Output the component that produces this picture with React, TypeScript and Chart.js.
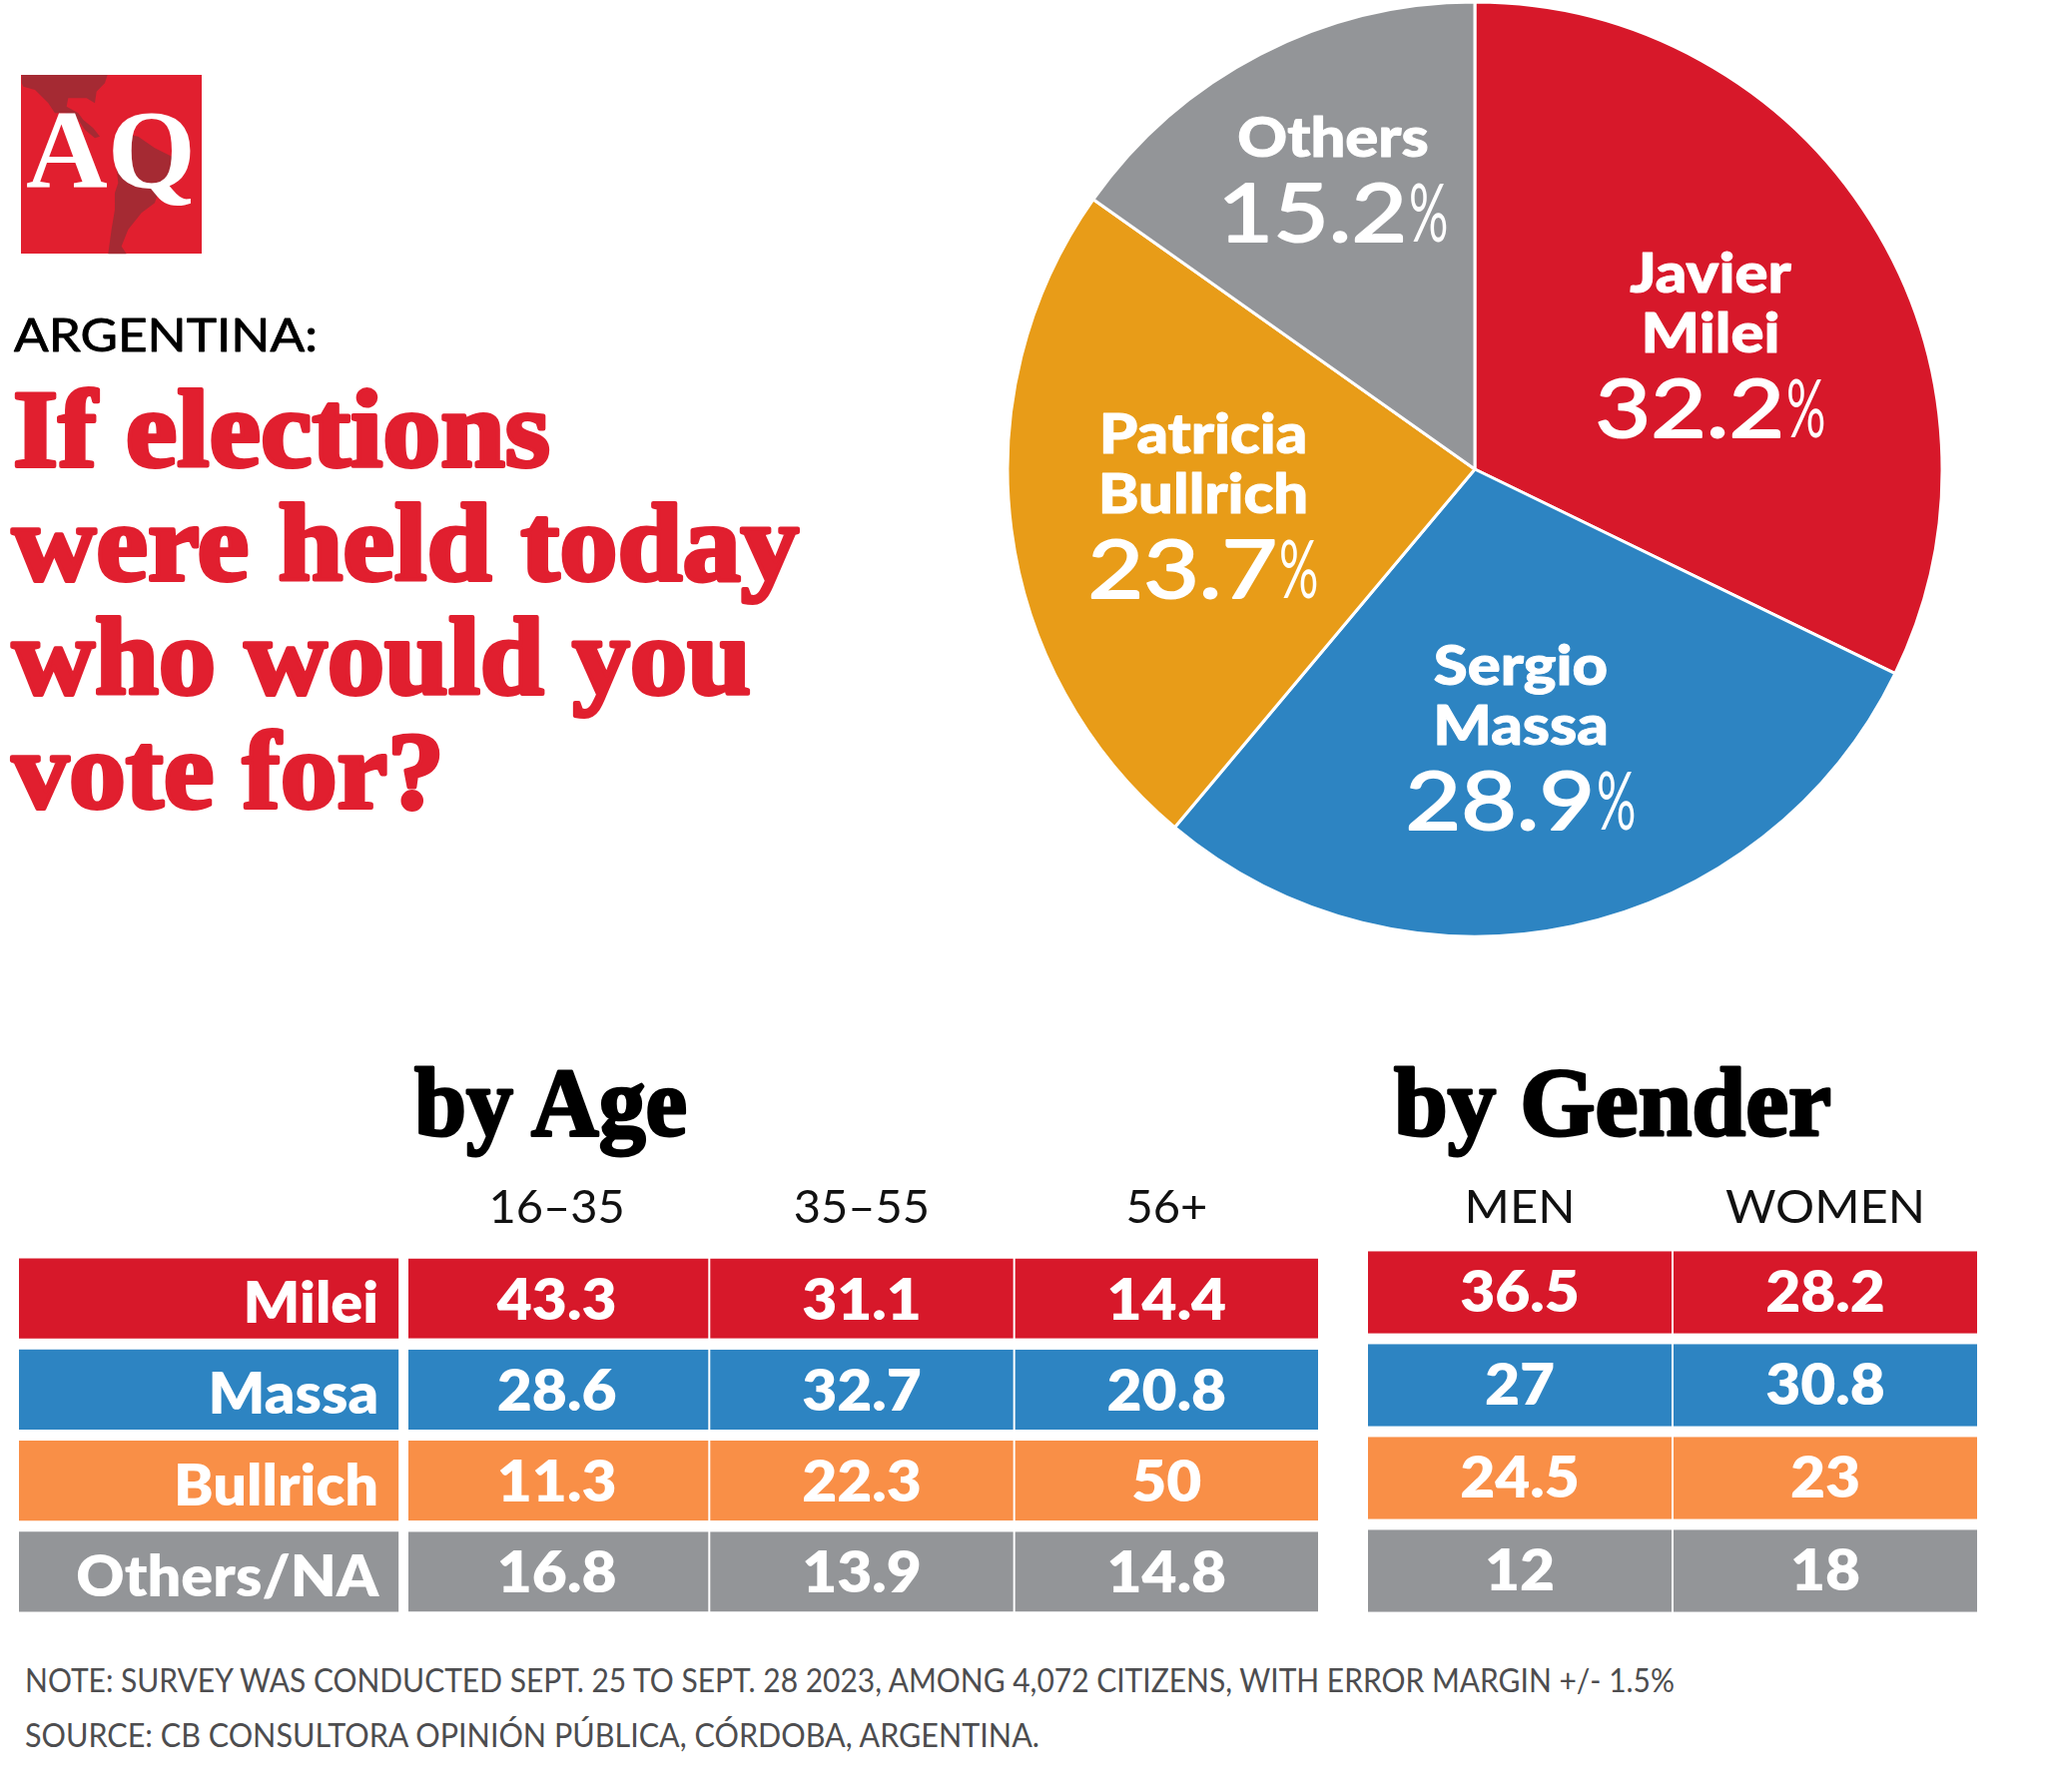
import { useEffect, useRef } from "react";
import { Chart, registerables } from "chart.js";
Chart.register(...registerables);

const pieNames = [["Javier", "Milei"], ["Sergio", "Massa"], ["Patricia", "Bullrich"], ["Others"]];
const pieValues = [32.2, 28.9, 23.7, 15.2];
const pieColors = ["#D7182A", "#2D84C2", "#E89C18", "#939598"];

const rowLabels = ["Milei", "Massa", "Bullrich", "Others/NA"];
const rowColors = ["#D7182A", "#2D84C2", "#F98F47", "#939598"];

const ageGroups = ["16–35", "35–55", "56+"];
const ageMilei = [43.3, 31.1, 14.4];
const ageMassa = [28.6, 32.7, 20.8];
const ageBullrich = [11.3, 22.3, 50];
const ageOthers = [16.8, 13.9, 14.8];

const genderGroups = ["MEN", "WOMEN"];
const genderMilei = [36.5, 28.2];
const genderMassa = [27, 30.8];
const genderBullrich = [24.5, 23];
const genderOthers = [12, 18];

const titleLines = ["If elections", "were held today", "who would you", "vote for?"];
const noteLine = "NOTE: SURVEY WAS CONDUCTED SEPT. 25 TO SEPT. 28 2023, AMONG 4,072 CITIZENS, WITH ERROR MARGIN +/- 1.5%";
const sourceLine = "SOURCE: CB CONSULTORA OPINIÓN PÚBLICA, CÓRDOBA, ARGENTINA.";

// first text baseline of each slice, relative to the pie centre
const pieTextOffsets = [
  [236, -177],
  [46, 216],
  [-272, -16],
  [-142, -313],
];

const RED = "#E11F2F";
const SANS = "Lato, 'Open Sans', sans-serif";
const SERIF = "'Liberation Serif', serif";

function drawText(ctx: CanvasRenderingContext2D, text: string, x: number, y: number, squeeze: number, align: "center" | "right" = "center", fatten = 0) {
  ctx.save();
  ctx.translate(x, y);
  ctx.scale(squeeze, 1);
  ctx.textAlign = align;
  ctx.textBaseline = "alphabetic";
  ctx.fillText(text, 0, 0);
  if (fatten) {
    ctx.strokeStyle = ctx.fillStyle;
    ctx.lineWidth = fatten;
    ctx.lineJoin = "round";
    ctx.strokeText(text, 0, 0);
  }
  ctx.restore();
}

function PieChart() {
  const canvasRef = useRef<HTMLCanvasElement>(null);

  useEffect(() => {
    const ctx = canvasRef.current?.getContext("2d");
    if (!ctx) return;

    const pieText = {
      id: "pieText",
      afterDatasetsDraw(chart: any) {
        const c = chart.ctx;
        c.fillStyle = "#fff";
        chart.getDatasetMeta(0).data.forEach((arc: any, i: number) => {
          const cx = arc.x + pieTextOffsets[i][0];
          let y = arc.y + pieTextOffsets[i][1];
          const names = pieNames[i];
          c.font = `900 56px ${SANS}`;
          names.forEach((name: string, n: number) => {
            drawText(c, name, cx, y + n * 60, 1.1, "center", 1);
          });
          y += (names.length - 1) * 60 + 85;
          // percent sign is narrower than the digits in the original
          const num = pieValues[i].toFixed(1);
          c.font = `400 82px ${SANS}`;
          const numW = c.measureText(num).width * 1.17;
          const pctW = c.measureText("%").width * 0.6;
          const left = cx - (numW + pctW + 2) / 2;
          drawText(c, num, left + numW / 2, y, 1.17, "center", 2);
          drawText(c, "%", left + numW + 2 + pctW / 2, y, 0.6);
        });
      },
    };

    const chart = new Chart(ctx, {
      type: "pie",
      data: {
        labels: pieNames.map((n) => n.join(" ")),
        datasets: [{ data: pieValues, backgroundColor: pieColors, borderColor: "#fff", borderWidth: 3 }],
      },
      options: {
        animation: false,
        responsive: false,
        radius: 468,
        plugins: { legend: { display: false }, tooltip: { enabled: false } },
      },
      plugins: [pieText],
    } as any);

    return () => chart.destroy();
  }, []);

  return <canvas ref={canvasRef} width={940} height={940} style={{ position: "absolute", left: 1007, top: 0 }} />;
}

function TableChart({ columns, rows, rowNames, style, paddingTop, xMin, barShare, valueDrop }: any) {
  const canvasRef = useRef<HTMLCanvasElement>(null);

  useEffect(() => {
    const ctx = canvasRef.current?.getContext("2d");
    if (!ctx) return;

    const datasets: any[] = columns.map((_: string, col: number) => ({
      label: columns[col],
      // the first column starts just after the gap beside the names column
      data: rowLabels.map(() => [col === 0 && rowNames ? 0.01 : col, col + 1]),
      backgroundColor: rowColors,
      borderColor: "#fff",
      borderWidth: { left: 1, right: 1, top: 0, bottom: 0 },
      borderSkipped: false,
      grouped: false,
      barPercentage: barShare,
      categoryPercentage: 1,
    }));
    if (rowNames) {
      datasets.push({
        label: "names",
        data: rowLabels.map(() => [xMin, -0.019]),
        backgroundColor: rowColors,
        grouped: false,
        barPercentage: barShare,
        categoryPercentage: 1,
      });
    }

    const cellText = {
      id: "cellText",
      afterDatasetsDraw(chart: any) {
        const c = chart.ctx;
        const xScale = chart.scales.x;
        columns.forEach((name: string, col: number) => {
          const cx = xScale.getPixelForValue(col + 0.5);
          c.fillStyle = "#111";
          c.font = `400 47px ${SANS}`;
          drawText(c, name, cx, 45, rowNames ? 1.0 : 1.04);
          c.fillStyle = "#fff";
          c.font = `800 56px ${SANS}`;
          chart.getDatasetMeta(col).data.forEach((bar: any, r: number) => {
            drawText(c, String(rows[r][col]), cx, bar.y + valueDrop, 1.08);
          });
        });
        if (rowNames) {
          c.fillStyle = "#fff";
          c.font = `800 56px ${SANS}`;
          chart.getDatasetMeta(columns.length).data.forEach((bar: any, r: number) => {
            drawText(c, rowLabels[r], Math.max(bar.x, bar.base) - 20, bar.y + 24.5, 1.06, "right");
          });
        }
      },
    };

    const chart = new Chart(ctx, {
      type: "bar",
      data: { labels: rowLabels, datasets },
      options: {
        animation: false,
        responsive: false,
        indexAxis: "y",
        layout: { padding: { top: paddingTop } },
        scales: {
          x: { display: false, min: xMin, max: columns.length },
          y: { display: false },
        },
        plugins: { legend: { display: false }, tooltip: { enabled: false } },
      },
      plugins: [cellText],
    } as any);

    return () => chart.destroy();
  }, []);

  return <canvas ref={canvasRef} width={style.width} height={style.height} style={{ position: "absolute", ...style }} />;
}

function Line({ x, y, width, size, family = SANS, weight = 400, fill = "#000", stroke = 0, children }: any) {
  return (
    <text
      x={x}
      y={y}
      textLength={width}
      lengthAdjust="spacingAndGlyphs"
      fontFamily={family}
      fontSize={size}
      fontWeight={weight}
      fill={fill}
      stroke={stroke ? fill : "none"}
      strokeWidth={stroke}
      strokeLinejoin="round"
    >
      {children}
    </text>
  );
}

function Logo() {
  return (
    <g>
      <rect x={21} y={75} width={181} height={179} fill={RED} />
      <g transform="translate(15 70) scale(0.3333)" fill="#A52A33">
        <polygon points="20,15 278,15 270,40 245,65 240,100 215,85 160,85 155,110 190,130 205,150 235,175 255,200 240,205 210,180 190,150 150,130 120,130 100,100 60,60 25,50 20,40" />
        <polygon points="320,190 370,200 420,235 480,265 495,290 465,320 430,370 420,400 380,430 340,480 320,530 335,553 280,553 290,480 300,420 300,370 310,340 300,240" />
      </g>
      <text x={26} y={188} fontFamily={SERIF} fontWeight={700} fontSize={112} fill="#fff" textLength={170} lengthAdjust="spacingAndGlyphs">
        AQ
      </text>
    </g>
  );
}

const titleWidths = [538, 788, 740, 433];
const titleLefts = [13, 12, 12, 12];
const titleBases = [467, 581, 695, 809];

export default function App() {
  return (
    <div style={{ position: "absolute", left: 0, top: 0, width: 2048, height: 1795, overflow: "hidden", background: "#fff" }}>
      <svg width={2048} height={1795} style={{ position: "absolute", left: 0, top: 0 }}>
        <Logo />
        <Line x={14} y={352} width={304} size={46} stroke={0.8}>ARGENTINA:</Line>
        {titleLines.map((line, i) => (
          <Line key={line} x={titleLefts[i]} y={titleBases[i]} width={titleWidths[i]} size={110} family={SERIF} weight={700} fill={RED} stroke={4}>
            {line}
          </Line>
        ))}
        <Line x={415} y={1137} width={273} size={97} family={SERIF} weight={700} stroke={3}>by Age</Line>
        <Line x={1396} y={1137} width={438} size={97} family={SERIF} weight={700} stroke={3}>by Gender</Line>
        <Line x={25} y={1695} width={1652} size={33} fill="#4D4D4F">{noteLine}</Line>
        <Line x={25} y={1750} width={1016} size={33} fill="#4D4D4F">{sourceLine}</Line>
      </svg>
      <PieChart />
      <TableChart
        columns={ageGroups}
        rows={[ageMilei, ageMassa, ageBullrich, ageOthers]}
        rowNames
        style={{ left: 19, top: 1180, width: 1302, height: 440 }}
        paddingTop={75}
        xMin={-1.264}
        barShare={0.877}
        valueDrop={21}
      />
      <TableChart
        columns={genderGroups}
        rows={[genderMilei, genderMassa, genderBullrich, genderOthers]}
        style={{ left: 1369, top: 1180, width: 612, height: 440 }}
        paddingTop={68}
        xMin={0}
        barShare={0.889}
        valueDrop={19.5}
      />
    </div>
  );
}
